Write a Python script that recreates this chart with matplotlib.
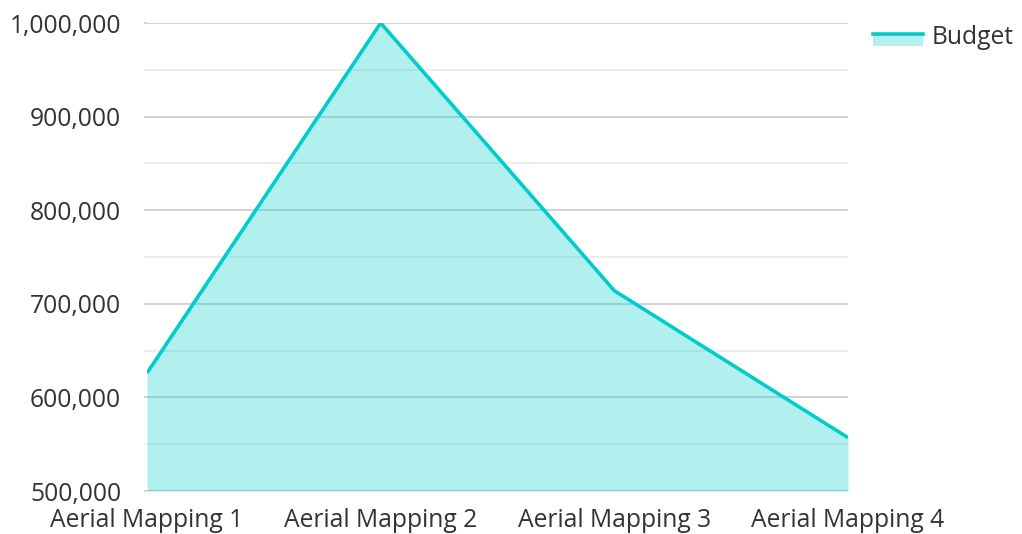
import matplotlib
matplotlib.use("Agg")
import matplotlib.pyplot as plt
from matplotlib.ticker import MultipleLocator, FuncFormatter
from matplotlib.lines import Line2D
from matplotlib.patches import Rectangle

categories = ["Aerial Mapping 1", "Aerial Mapping 2", "Aerial Mapping 3", "Aerial Mapping 4"]
budget = [626000, 1000000, 714000, 557000]
series_name = "Budget"

line_color = "#00cccc"
fill_alpha = 0.3
text_color = "#333333"
major_grid = "#c8c8c8"
minor_grid = "#e8e8e8"

plt.rcParams["font.family"] = ["Open Sans", "DejaVu Sans"]
FS = 17.7

W, H = 1022, 534
fig = plt.figure(figsize=(W / 100, H / 100), dpi=100)
ax = fig.add_axes([147 / W, (H - 491) / H, (848 - 147) / W, (491 - 23) / H])

x = list(range(len(categories)))
ax.fill_between(x, budget, 500000, color=line_color, alpha=fill_alpha, lw=0, zorder=3)
ax.plot(x, budget, color=line_color, lw=2.6, zorder=4, solid_capstyle="butt")

ax.set_xlim(0, len(categories) - 1)
ax.set_ylim(500000, 1000000)
ax.yaxis.set_major_locator(MultipleLocator(100000))
ax.yaxis.set_minor_locator(MultipleLocator(50000))
ax.yaxis.set_major_formatter(FuncFormatter(lambda v, p: f"{int(v):,}"))
ax.grid(axis="y", which="major", color=major_grid, lw=1.1, zorder=1)
ax.grid(axis="y", which="minor", color=minor_grid, lw=1.1, zorder=1)
ax.set_axisbelow(True)

ax.set_xticks(x)
ax.set_xticklabels(categories)
for s in ax.spines.values():
    s.set_visible(False)
ax.tick_params(axis="x", length=0, pad=12, labelsize=FS, colors=text_color)
ax.tick_params(axis="y", which="major", length=2.2, width=1.1, color=major_grid,
               pad=16.5, labelsize=FS, labelcolor=text_color)
ax.tick_params(axis="y", which="minor", length=2.2, width=1.1, color=minor_grid)

# Baseline at the bottom of the value range
ax.axhline(500000, color=major_grid, lw=1.1, zorder=1)

# Legend swatch: line over filled band
fig.add_artist(Rectangle((873 / W, (H - 46) / H), 50 / W, 13 / H,
                         transform=fig.transFigure, color=line_color,
                         alpha=fill_alpha, lw=0))
fig.add_artist(Line2D([873 / W, 923 / W], [(H - 34) / H] * 2,
                      transform=fig.transFigure, color=line_color, lw=2.6))
fig.text(932 / W, (H - 37) / H, series_name, fontsize=FS, color=text_color,
         va="center", ha="left")

fig.savefig("out.png", dpi=100)
